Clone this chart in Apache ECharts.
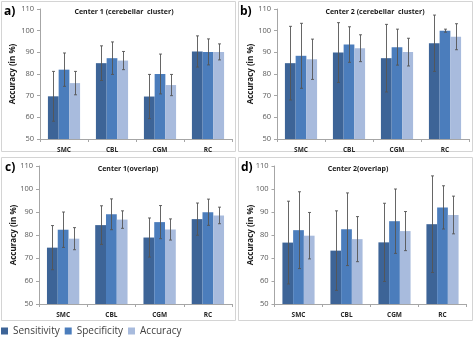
<!DOCTYPE html>
<html><head><meta charset="utf-8">
<script src="https://cdn.jsdelivr.net/npm/echarts@6/dist/echarts.min.js"></script>
<style>html,body{margin:0;padding:0;background:#fff;}#c{width:474px;height:337px;}</style>
</head><body><div id="c"></div>
<script>
const categories = ['SMC', 'CBL', 'CGM', 'RC'];
const seriesNames = ['Sensitivity', 'Specificity', 'Accuracy'];
const yTicks = [50, 60, 70, 80, 90, 100, 110];

// Panel a) Center 1 (cerebellar cluster)
const aSens = [69.7, 85.0, 69.6, 90.4];
const aSpec = [82.0, 87.3, 80.0, 90.2];
const aAcc  = [75.8, 86.2, 74.9, 90.2];
const aSensErr = [11.5, 8.0, 10.2, 7.2];
const aSpecErr = [7.7, 7.5, 9.2, 6.0];
const aAccErr  = [5.4, 4.2, 4.9, 3.7];

// Panel b) Center 2 (cerebellar cluster)
const bSens = [85.0, 89.9, 87.3, 94.2];
const bSpec = [88.4, 93.6, 92.4, 100.0];
const bAcc  = [86.8, 91.9, 90.1, 97.2];
const bSensErr = [17.0, 13.8, 15.6, 13.0];
const bSpecErr = [15.0, 8.2, 8.3, 0.7];
const bAccErr  = [9.3, 6.2, 6.4, 6.0];

// Panel c) Center 1 (overlap)
const cSens = [74.5, 84.3, 78.9, 86.9];
const cSpec = [82.3, 89.0, 85.6, 89.9];
const cAcc  = [78.4, 86.7, 82.4, 88.5];
const cSensErr = [9.6, 8.4, 8.5, 7.0];
const cSpecErr = [7.7, 6.7, 7.2, 5.7];
const cAccErr  = [4.8, 3.8, 4.6, 3.6];

// Panel d) Center 2 (overlap)
const dSens = [76.7, 73.2, 76.8, 84.7];
const dSpec = [82.1, 82.5, 86.0, 92.0];
const dAcc  = [79.7, 78.2, 81.7, 88.7];
const dSensErr = [18.0, 17.3, 17.0, 21.0];
const dSpecErr = [16.7, 15.8, 14.0, 9.4];
const dAccErr  = [10.1, 9.8, 8.5, 8.2];

const panels = [
  {letter: 'a)', title: 'Center 1 (cerebellar  cluster)', vals: [aSens, aSpec, aAcc], errs: [aSensErr, aSpecErr, aAccErr],
   grid: {left: 40, top: 9, width: 192, height: 130}, box: [1, 1, 234, 150], titlePos: [124, 12], letterPos: [4, 12], namePos: [13, 74]},
  {letter: 'b)', title: 'Center 2 (cerebellar  cluster)', vals: [bSens, bSpec, bAcc], errs: [bSensErr, bSpecErr, bAccErr],
   grid: {left: 277, top: 9, width: 192, height: 130}, box: [238, 1, 234, 150], titlePos: [375, 12], letterPos: [240, 12], namePos: [251, 74]},
  {letter: 'c)', title: 'Center 1(overlap)', vals: [cSens, cSpec, cAcc], errs: [cSensErr, cSpecErr, cAccErr],
   grid: {left: 39, top: 166, width: 193, height: 138}, box: [1, 157, 234, 163], titlePos: [128, 169], letterPos: [5, 168], namePos: [14, 235]},
  {letter: 'd)', title: 'Center 2(overlap)', vals: [dSens, dSpec, dAcc], errs: [dSensErr, dSpecErr, dAccErr],
   grid: {left: 274.5, top: 166, width: 192, height: 138}, box: [238, 157, 234, 163], titlePos: [358, 169], letterPos: [241, 168], namePos: [251, 235]}
];

const colors = ['#3d6497', '#4b7dbc', '#a8bbdd'];
const GAP = 0.33;
const FONT = '"Open Sans", "Liberation Sans", sans-serif';

const grids = [], xAxes = [], yAxes = [], series = [], graphics = [];

panels.forEach((p, pi) => {
  grids.push(Object.assign({containLabel: false}, p.grid));
  xAxes.push({
    type: 'category', gridIndex: pi, data: categories,
    axisLine: {lineStyle: {color: '#a6a6a6', width: 1}},
    axisTick: {show: true, alignWithLabel: false, length: 3, lineStyle: {color: '#a6a6a6'}},
    axisLabel: {color: '#262626', fontFamily: FONT, fontSize: 6.5, fontWeight: 'bold', margin: 8}
  });
  yAxes.push({
    type: 'value', gridIndex: pi, min: yTicks[0], max: yTicks[yTicks.length - 1], interval: 10,
    axisLine: {show: true, lineStyle: {color: '#a6a6a6', width: 1}},
    axisTick: {show: true, length: 3, lineStyle: {color: '#a6a6a6'}},
    splitLine: {show: false},
    axisLabel: {color: '#595959', fontFamily: FONT, fontSize: 7.5, margin: 6}
  });
  seriesNames.forEach((name, si) => {
    series.push({
      type: 'bar', name: name, xAxisIndex: pi, yAxisIndex: pi,
      data: p.vals[si], barGap: '0%', barCategoryGap: (GAP * 100) + '%',
      itemStyle: {color: colors[si]}, z: 2
    });
  });
  seriesNames.forEach((name, si) => {
    const data = p.vals[si].map((v, i) => [i, v, p.errs[si][i]]);
    series.push({
      type: 'custom', xAxisIndex: pi, yAxisIndex: pi, z: 5, silent: true,
      data: data, encode: {x: 0, y: 1},
      renderItem: function (params, api) {
        const idx = api.value(0), v = api.value(1), e = api.value(2);
        const hi = api.coord([idx, v + e]);
        const lo = api.coord([idx, v - e]);
        const band = api.size([1, 0])[0];
        const bw = band * (1 - GAP) / 3;
        const cx = Math.round(hi[0] + (si - 1) * bw) + 0.5;
        const cap = 1.5;
        const st = {stroke: '#555555', lineWidth: 0.9};
        return {type: 'group', children: [
          {type: 'line', shape: {x1: cx, y1: hi[1], x2: cx, y2: lo[1]}, style: st},
          {type: 'line', shape: {x1: cx - cap, y1: hi[1], x2: cx + cap, y2: hi[1]}, style: st},
          {type: 'line', shape: {x1: cx - cap, y1: lo[1], x2: cx + cap, y2: lo[1]}, style: st}
        ]};
      }
    });
  });
  graphics.push({type: 'rect', shape: {x: p.box[0] + 0.5, y: p.box[1] + 0.5, width: p.box[2], height: p.box[3]},
    style: {fill: 'none', stroke: '#d4d4d4', lineWidth: 1}, z: -1});
  graphics.push({type: 'text', x: p.titlePos[0], y: p.titlePos[1],
    style: {text: p.title, font: 'bold 7px ' + FONT, fill: '#1a1a1a', textAlign: 'center', textVerticalAlign: 'middle'}});
  graphics.push({type: 'text', x: p.letterPos[0], y: p.letterPos[1],
    style: {text: p.letter, font: 'bold 12px ' + FONT, fill: '#000', textAlign: 'left', textVerticalAlign: 'middle'}});
  graphics.push({type: 'text', x: p.namePos[0], y: p.namePos[1], rotation: Math.PI / 2,
    style: {text: 'Accuracy (in %)', font: 'bold 8px ' + FONT, fill: '#1a1a1a', textAlign: 'center', textVerticalAlign: 'middle'}});
});

const chart = echarts.init(document.getElementById('c'), null, {renderer: 'canvas'});
chart.setOption({
  animation: false,
  backgroundColor: '#ffffff',
  grid: grids, xAxis: xAxes, yAxis: yAxes, series: series,
  legend: {
    data: seriesNames, left: 1, top: 325, padding: 0, icon: 'rect', itemWidth: 7, itemHeight: 7, itemGap: 5,
    textStyle: {color: '#404040', fontFamily: FONT, fontSize: 10, lineHeight: 12}
  },
  graphic: graphics
});
</script></body></html>
